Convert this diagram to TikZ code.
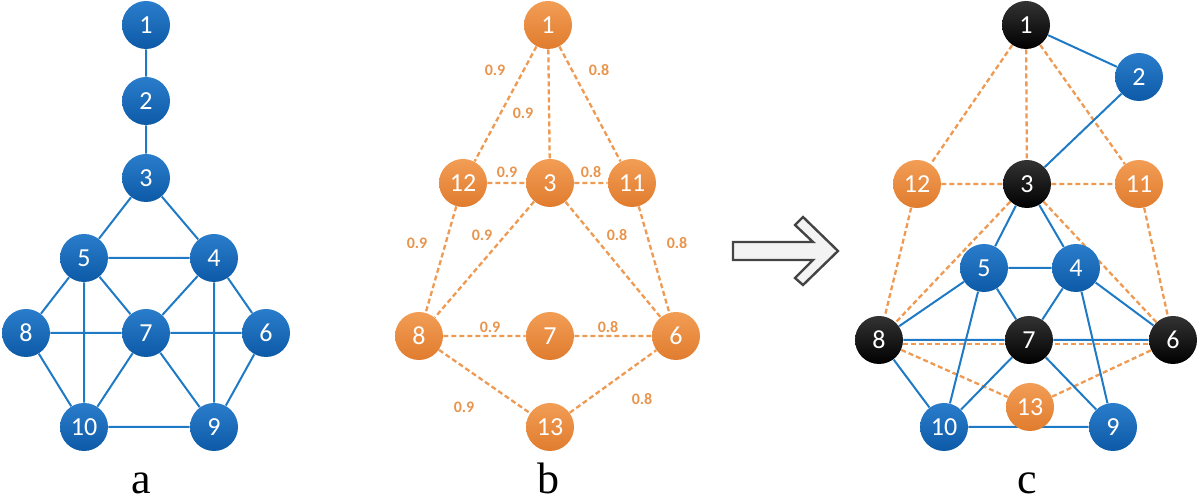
\documentclass[tikz,border=0pt]{standalone}
\usepackage{fontspec}
\setmainfont{Liberation Serif}
\newfontfamily\numfont{Carlito}
\usetikzlibrary{backgrounds}

\definecolor{blueTop}{HTML}{2A7DCB}
\definecolor{blueBot}{HTML}{0D5AA7}
\definecolor{orTop}{HTML}{F29D55}
\definecolor{orBot}{HTML}{E07C2E}
\definecolor{edgeblue}{HTML}{1F7AC6}
\definecolor{edgeorange}{HTML}{EE9A52}
\definecolor{laborange}{HTML}{E9944D}
\definecolor{arrowgray}{HTML}{444444}
\definecolor{arrowfill}{HTML}{F3F3F3}

\tikzset{
  bnode/.style={circle, minimum size=24pt, inner sep=0pt, top color=blueTop, bottom color=blueBot, draw=none, text=white, font=\numfont\fontsize{13}{13}\selectfont},
  onode/.style={bnode, top color=orTop, bottom color=orBot},
  knode/.style={bnode, top color=black!80, bottom color=black},
  bedge/.style={draw=edgeblue, line width=1pt},
  oedge/.style={draw=edgeorange, line width=1.15pt, dash pattern=on 2.5pt off 1.5pt},
  wlab/.style={text=laborange, font=\numfont\bfseries\fontsize{8}{8}\selectfont},
  panel/.style={anchor=base, inner sep=0pt, font=\fontsize{22}{24}\selectfont}
}

\begin{document}
\begin{tikzpicture}[x=0.5pt,y=-0.5pt]
    \useasboundingbox (0,0) rectangle (1200,501);

    % graph a
    \node[bnode] (a1) at (146,25) {1};
    \node[bnode] (a2) at (146,101) {2};
    \node[bnode] (a3) at (146,178) {3};
    \node[bnode] (a5) at (84,258) {5};
    \node[bnode] (a4) at (214,258) {4};
    \node[bnode] (a8) at (26,333) {8};
    \node[bnode] (a7) at (146,333) {7};
    \node[bnode] (a6) at (266,333) {6};
    \node[bnode] (a10) at (84,427) {10};
    \node[bnode] (a9) at (214,427) {9};
    \begin{scope}[on background layer]
    \draw[bedge] (a1) -- (a2) (a2) -- (a3) (a3) -- (a5) (a3) -- (a4) (a5) -- (a4);
    \draw[bedge] (a5) -- (a8) (a5) -- (a10) (a5) -- (a7) (a4) -- (a7) (a4) -- (a9) (a4) -- (a6);
    \draw[bedge] (a8) -- (a7) (a7) -- (a6) (a8) -- (a10) (a7) -- (a10) (a7) -- (a9) (a6) -- (a9) (a10) -- (a9);
    \end{scope}
    \node[panel] (la) at (141,494) {a};

    % graph b
    \node[onode] (b1) at (548,25) {1};
    \node[onode] (b12) at (463,183) {12};
    \node[onode] (b3) at (550,183) {3};
    \node[onode] (b11) at (632,183) {11};
    \node[onode] (b8) at (419,336) {8};
    \node[onode] (b7) at (550,336) {7};
    \node[onode] (b6) at (676,336) {6};
    \node[onode] (b13) at (550,427) {13};
    \begin{scope}[on background layer]
    \draw[oedge] (b1) -- (b12) (b1) -- (b3) (b1) -- (b11) (b12) -- (b3) (b3) -- (b11);
    \draw[oedge] (b12) -- (b8) (b3) -- (b8) (b3) -- (b6) (b11) -- (b6);
    \draw[oedge] (b8) -- (b7) (b7) -- (b6) (b8) -- (b13) (b13) -- (b6);
    \end{scope}
    \node[wlab] (w1) at (495,70) {0.9};
    \node[wlab] (w2) at (599,70) {0.8};
    \node[wlab] (w3) at (523,113) {0.9};
    \node[wlab] (w4) at (507,172) {0.9};
    \node[wlab] (w5) at (591,172) {0.8};
    \node[wlab] (w6) at (417,243) {0.9};
    \node[wlab] (w7) at (482,235) {0.9};
    \node[wlab] (w8) at (617,235) {0.8};
    \node[wlab] (w9) at (677,243) {0.8};
    \node[wlab] (w10) at (490,327) {0.9};
    \node[wlab] (w11) at (608,327) {0.8};
    \node[wlab] (w12) at (464,407) {0.9};
    \node[wlab] (w13) at (642,399) {0.8};
    \node[panel] (lb) at (548,494) {b};

    % arrow
    \draw[draw=arrowgray, fill=arrowfill, line width=1.2pt, line join=miter]
        (733,242) -- (813,242) -- (795,225) -- (803,217) -- (838,251)
        -- (803,285) -- (795,278) -- (813,260) -- (733,260) -- cycle;

    % graph c
    \node[knode] (c1) at (1026,25) {1};
    \node[bnode] (c2) at (1139,77) {2};
    \node[onode] (c12) at (917,184) {12};
    \node[knode] (c3) at (1027,184) {3};
    \node[onode] (c11) at (1139,184) {11};
    \node[bnode] (c5) at (984,268) {5};
    \node[bnode] (c4) at (1076,268) {4};
    \node[knode] (c8) at (879,340) {8};
    \node[knode] (c7) at (1029,340) {7};
    \node[knode] (c6) at (1173,340) {6};
    \node[onode] (c13) at (1030,407) {13};
    \node[bnode] (c10) at (944,427) {10};
    \node[bnode] (c9) at (1113,427) {9};
    \begin{scope}[on background layer]
    \draw[oedge] (c1) -- (c12) (c1) -- (c3) (c1) -- (c11) (c12) -- (c3) (c3) -- (c11);
    \draw[oedge] (c12) -- (c8) (c3) -- (c8) (c3) -- (c6) (c11) -- (c6) (c8) -- (c13) (c13) -- (c6);
    \draw[oedge] ([yshift=-2pt]c8.center) -- ([yshift=-2pt]c6.center);
    \draw[bedge] (c1) -- (c2) (c2) -- (c3) (c3) -- (c5) (c3) -- (c4) (c5) -- (c4);
    \draw[bedge] (c5) -- (c8) (c5) -- (c10) (c5) -- (c7) (c4) -- (c7) (c4) -- (c9) (c4) -- (c6);
    \draw[bedge] (c8) -- (c7) (c7) -- (c6) (c8) -- (c10) (c7) -- (c10) (c7) -- (c9) (c10) -- (c9);
    \end{scope}
    \node[panel] (lc) at (1027,494) {c};
\end{tikzpicture}
\end{document}
